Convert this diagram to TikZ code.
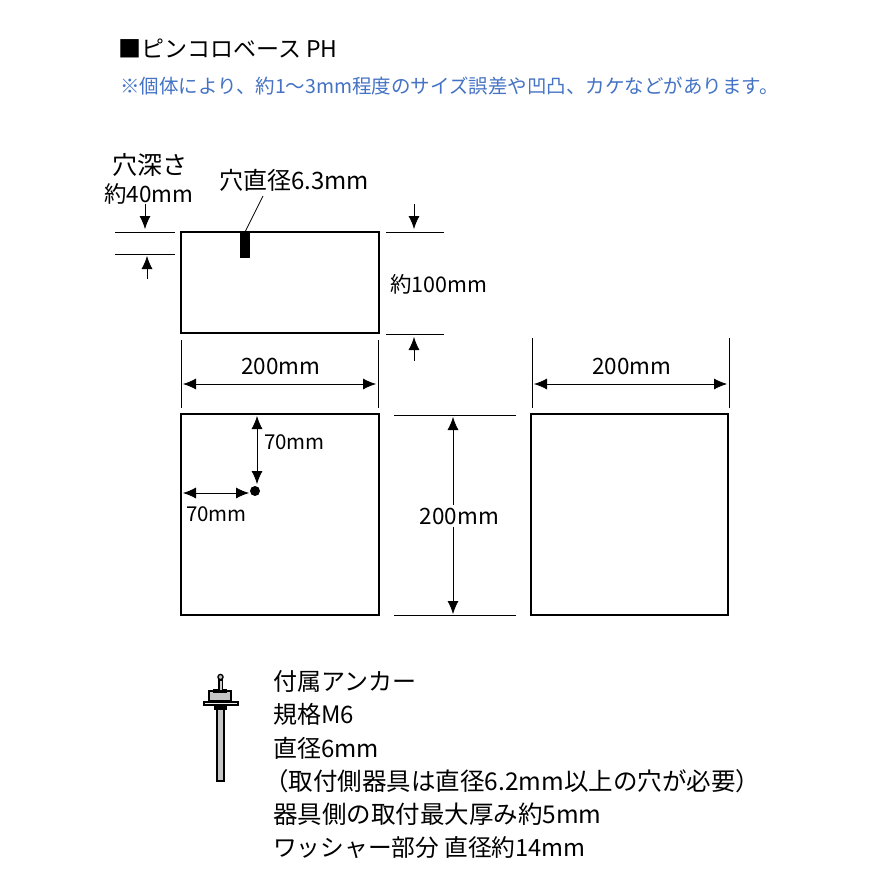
\documentclass[tikz,border=0pt]{standalone}
\usepackage{fontspec}
\setmainfont{Noto Sans CJK JP}
\usepackage{tikz}
\usetikzlibrary{arrows.meta,positioning,calc,fit}

\begin{document}
\begin{tikzpicture}[x=1pt,y=-1pt]
\definecolor{note blue}{RGB}{68,114,196}
\tikzset{
     block/.style={draw,line width=1.8pt,inner sep=0pt,outer sep=0pt},
     ext/.style={line width=0.7pt},
     dim/.style={line width=0.8pt,{Latex[length=13pt,width=11pt]}-{Latex[length=13pt,width=11pt]}},
     pointer/.style={line width=0.8pt,-{Latex[length=13pt,width=11pt]}},
     lab/.style={font=\fontsize{22.5}{26}\selectfont,inner sep=0pt},
     smalllab/.style={font=\fontsize{21.5}{25}\selectfont,inner sep=0pt},
     biglab/.style={font=\fontsize{24}{28}\selectfont,inner sep=0pt},
     leftlab/.style={biglab,anchor=west}}
\useasboundingbox (0,0) rectangle (888,888);
\fill[white] (0,0) rectangle (888,888);

% The headings
\node (title) [anchor=west,inner sep=0pt,font=\fontsize{23}{27}\selectfont] at (118,48.5) {■ピンコロベース PH};
\node (note) [anchor=west,inner sep=0pt,text=note blue,font=\fontsize{19.5}{23}\selectfont] at (120,86) {※個体により、約1〜3mm程度のサイズ誤差や凹凸、カケなどがあります。};

% The blocks
\coordinate (sidetl) at (181,232);
\coordinate (sidebr) at (379,333);
\coordinate (leftltl) at (181,414);
\coordinate (leftlbr) at (379,615);
\coordinate (righttl) at (531,414);
\coordinate (rightbr) at (728,615);
\node (side) [block,fit=(sidetl)(sidebr)] {};
\node (planleft) [block,fit=(leftltl)(leftlbr)] {};
\node (planright) [block,fit=(righttl)(rightbr)] {};

% The hole
\node (hole) [fill=black,minimum width=10pt,minimum height=26pt,inner sep=0pt,anchor=north] at (245,232) {};
\node (dot) [circle,fill=black,minimum size=10pt,inner sep=0pt] at (255,491) {};
\node (holedia) [biglab] at (294,180) {穴直径6.3mm};
\draw [ext] (245,232) -- (263,196);

% Hole depth
\node (depth1) [font=\fontsize{25}{29}\selectfont,inner sep=0pt] at (150,165) {穴深さ};
\node (depth2) [lab] at (149,194) {約40mm};
\coordinate (depthtopa) at (115,232);
\coordinate (depthtopb) at (175,232);
\coordinate (depthbota) at (115,254);
\coordinate (depthbotb) at (175,254);
\draw [ext] (depthtopa) -- (depthtopb);
\draw [ext] (depthbota) -- (depthbotb);
\draw [pointer] (145,204) -- (145,229);
\draw [pointer] (147,279) -- (147,256);

% Height of the side block
\coordinate (hta) at (386,232);
\coordinate (htb) at (444,232);
\coordinate (hba) at (386,334);
\coordinate (hbb) at (444,334);
\draw [ext] (hta) -- (htb);
\draw [ext] (hba) -- (hbb);
\draw [pointer] (414,204) -- (414,229);
\draw [pointer] (414,361) -- (414,337);
\node (height) [smalllab,anchor=west] at (390,284) {約100mm};

% Width, left
\coordinate (wla) at (181,340);
\coordinate (wlb) at (181,408);
\coordinate (wra) at (378,340);
\coordinate (wrb) at (378,408);
\draw [ext] (wla) -- (wlb);
\draw [ext] (wra) -- (wrb);
\draw [dim] (183,384) -- (376,384);
\node (widthleft) [lab] at (281,366) {200mm};

% Width, right
\coordinate (wlc) at (532,338);
\coordinate (wld) at (532,408);
\coordinate (wrc) at (729,338);
\coordinate (wrd) at (729,408);
\draw [ext] (wlc) -- (wld);
\draw [ext] (wrc) -- (wrd);
\draw [dim] (534,384) -- (727,384);
\node (widthright) [lab] at (632,366) {200mm};

% Depth between the squares
\coordinate (dta) at (394,415);
\coordinate (dtb) at (516,415);
\coordinate (dba) at (394,615);
\coordinate (dbb) at (516,615);
\draw [ext] (dta) -- (dtb);
\draw [ext] (dba) -- (dbb);
\draw [dim] (453,417) -- (453,614);
\node (depthlab) [lab,fill=white,inner ysep=3pt] at (459.5,516) {200mm};

% Offsets of the hole
\draw [dim] (257,416) -- (257,484);
\draw [dim] (183,493) -- (249,493);
\node (offsety) [font=\fontsize{20.5}{24}\selectfont,inner sep=0pt,anchor=west] at (264,442) {70mm};
\node (offsetx) [font=\fontsize{20.5}{24}\selectfont,inner sep=0pt,anchor=west] at (186,514) {70mm};

% The anchor
\draw [line width=2.2pt,fill=gray!45] (217,705) rectangle (224,781);
\fill (214,705) rectangle (227,710);
\draw [line width=2pt,fill=gray!45] (209,691) rectangle (231,701);
\fill (213,689) rectangle (227,693);
\draw [line width=1.6pt,fill=gray!15] (204,702) rectangle (238,705);
\draw [line width=1.3pt,fill=gray!40] (219,690) -- (219,680) -- (222.5,680) -- (222.5,690);
\draw [line width=1.3pt,fill=gray!50] (220.5,677) circle (2.6);

% The anchor notes
\node (anchor1) [leftlab] at (273,681) {付属アンカー};
\node (anchor2) [leftlab] at (273,714) {規格M6};
\node (anchor3) [leftlab] at (273,748) {直径6mm};
\node (anchor4) [anchor=west,inner sep=0pt,font=\fontsize{24.5}{28}\selectfont] at (264,781) {（取付側器具は直径6.2mm以上の穴が必要）};
\node (anchor5) [anchor=west,inner sep=0pt,font=\fontsize{24.5}{28}\selectfont] at (273,814) {器具側の取付最大厚み約5mm};
\node (anchor6) [anchor=west,inner sep=0pt,font=\fontsize{23.7}{28}\selectfont] at (273,848) {ワッシャー部分 直径約14mm};
\end{tikzpicture}
\end{document}
